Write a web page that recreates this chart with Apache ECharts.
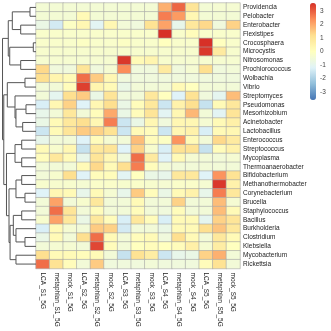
<!DOCTYPE html>
<html><head><meta charset="utf-8">
<script src="https://cdn.jsdelivr.net/npm/echarts@6/dist/echarts.min.js"></script>
<style>html,body{margin:0;padding:0;background:#fff}#c{width:331px;height:331px}</style>
</head><body><div id="c"></div>
<script>
const samples = ['LCA_S1_5G','metaphlan_S1_5G','mock_S1_5G','LCA_S2_5G','metaphlan_S2_5G','mock_S2_5G','LCA_S3_5G','metaphlan_S3_5G','mock_S3_5G','LCA_S4_5G','metaphlan_S4_5G','mock_S4_5G','LCA_S5_5G','metaphlan_S5_5G','mock_S5_5G'];
const taxa = ['Providencia','Pelobacter','Enterobacter','Flexistipes','Crocosphaera','Microcystis','Nitrosomonas','Prochlorococcus','Wolbachia','Vibrio','Streptomyces','Pseudomonas','Mesorhizobium','Acinetobacter','Lactobacillus','Enterococcus','Streptococcus','Mycoplasma','Thermoanaerobacter','Bifidobacterium','Methanothermobacter','Corynebacterium','Brucella','Staphylococcus','Bacillus','Burkholderia','Clostridium','Klebsiella','Mycobacterium','Rickettsia'];
const zscores = [
 [-0.45,-0.45,-0.45,-0.45,-0.45,-0.45,-0.45,-0.45,-0.45,1.9,2.9,1.0,-0.45,-0.4,-0.4],
 [-0.45,-0.45,-0.45,0.2,-0.45,-0.45,-0.45,-0.45,-0.45,2.6,2.2,0.3,-0.45,-0.45,-0.45],
 [-0.8,-1.4,-0.1,0.3,-1.1,0.3,-0.5,-0.6,1.1,2.1,-0.9,0.9,1.3,-0.6,1.4],
 [-0.25,-0.25,-0.25,-0.25,-0.25,-0.25,-0.25,-0.25,-0.25,3.6,-0.25,0.1,-0.25,-0.25,-0.25],
 [-0.25,-0.25,-0.25,-0.1,-0.25,-0.25,-0.1,-0.25,-0.25,0.0,-0.25,-0.25,3.6,0.0,-0.25],
 [-0.3,-0.3,-0.3,-0.3,-0.3,-0.3,-0.3,-0.3,-0.3,-0.3,-0.3,-0.3,3.5,0.8,-0.3],
 [-0.35,-0.35,-0.35,-0.35,-0.35,-0.35,3.5,0.2,0.4,-0.3,-0.35,-0.35,-0.35,-0.35,-0.35],
 [1.3,-0.6,-0.6,1.0,-0.6,-0.4,2.4,-0.6,-0.6,0.8,-0.6,-0.4,1.2,-0.6,-0.5],
 [1.2,0.4,0.2,2.8,1.5,0.3,-0.6,-0.6,-0.6,-0.6,-0.6,-0.6,-0.6,-0.6,-0.6],
 [-0.5,-0.5,0.1,3.4,0.4,0.2,-0.8,-0.5,-0.5,-0.5,0.2,0.0,-0.5,-0.5,-0.5],
 [-0.5,-1.0,1.2,1.5,-0.8,1.0,-0.6,-0.5,0.9,0.0,-1.2,1.1,-0.6,-1.0,1.7],
 [-1.3,0.3,1.4,-1.2,0.3,1.2,-0.8,0.1,0.9,-1.5,0.5,1.2,-1.6,0.2,0.9],
 [-0.9,-0.5,0.9,-0.5,0.1,2.0,-0.8,0.1,1.0,-1.1,0.3,1.8,-0.5,-1.1,1.0],
 [-0.8,0.2,0.9,1.2,0.3,2.6,-1.5,-0.8,0.3,-0.6,0.3,0.3,-0.4,0.2,0.6],
 [-1.5,0.2,1.0,1.5,1.4,1.1,-1.5,0.2,0.1,-1.5,0.3,0.5,-1.3,0.2,0.3],
 [-0.9,-0.5,-0.5,-1.2,0.1,-0.4,-0.5,1.7,0.1,-0.1,2.3,0.2,-0.5,1.3,0.8],
 [0.2,-0.3,0.3,-1.6,0.9,1.0,-1.2,1.4,-0.3,-1.3,1.1,1.1,-1.6,0.1,0.5],
 [0.1,0.9,0.2,-0.9,1.0,0.3,-0.6,2.8,0.8,-1.2,0.2,-0.4,-0.5,-0.5,-0.4],
 [-0.5,-0.5,-0.5,0.2,1.3,0.2,1.2,2.6,0.1,-0.5,-0.5,-0.5,-0.5,-0.5,-0.5],
 [-0.5,-0.3,1.2,-1.2,0.1,0.1,-1.1,0.0,-0.8,-0.9,0.9,0.9,-1.2,2.3,1.1],
 [-0.3,-0.3,-0.3,-0.4,-0.2,-0.2,-0.3,-0.2,-0.3,-0.4,-0.2,-0.2,-0.4,3.5,0.5],
 [-1.2,0.3,0.2,-0.9,0.2,-0.4,-0.9,1.5,0.1,-0.8,0.2,0.5,-0.9,2.6,0.9],
 [-0.5,2.1,-0.5,-0.3,0.9,-0.5,-0.5,0.2,-0.5,-0.5,1.4,-0.5,-0.5,1.7,-0.4],
 [-0.5,2.8,1.0,-0.5,0.1,-0.5,-0.5,0.1,-0.5,-0.6,0.1,-0.5,-0.5,1.7,0.2],
 [-0.3,2.1,0.9,-0.8,0.9,0.1,-1.3,0.9,0.1,-1.3,0.2,0.2,-1.0,1.4,1.0],
 [-1.3,0.2,-0.4,-0.5,1.5,1.4,-1.4,-0.5,-0.5,-0.8,0.2,0.2,1.2,1.6,0.9],
 [-0.8,0.2,-0.5,1.2,2.8,0.2,-0.5,0.1,0.2,-0.6,1.2,0.2,-0.5,0.9,0.2],
 [-0.5,-0.4,-0.4,-0.5,3.3,0.1,-0.5,0.0,0.1,0.0,0.1,0.6,-0.4,0.7,0.0],
 [1.2,0.2,0.2,0.1,0.2,-0.5,-1.6,1.1,0.7,-1.5,-0.9,-0.8,1.4,1.9,-0.5],
 [2.8,1.1,0.1,-0.5,1.5,-0.6,-0.6,-0.6,-0.5,-0.6,-0.6,-0.6,0.1,1.1,-0.5]
];
const legendTicks = [-3,-2,-1,0,1,2,3];
const colorLimit = 3.6;
const palette = ['#4575B4','#91BFDB','#E0F3F8','#FFFFBF','#FEE090','#FC8D59','#D73027'];
// hclust-style merges: negative = leaf row (-(i+1)), positive = earlier merge (1-based); third = height
const rowMerges = [
 [-1,-2,1.67],[-3,-4,4.25],[1,2,6.58],[-5,-6,0.75],[-7,-8,4.25],[4,5,7.3],[3,6,7.7],
 [-9,-10,3.06],[-12,-13,2.78],[-14,-15,3.7],[9,10,5.56],[-11,11,5.83],[8,12,7.97],
 [-16,-17,3.97],[-18,-19,3.97],[14,15,5.83],
 [-20,-21,3.97],[-22,-23,3.06],[17,18,5.56],
 [-24,-25,3.97],[-27,-28,3.06],[-26,21,5.56],[20,22,6.3],[-29,-30,5.56],[23,24,7.2],
 [19,25,7.5],[16,26,8.2],[13,27,8.95],[7,28,9.3]
];

const nodeH = [], nodeY = [];
function ref(r){ return r < 0 ? {h:0, y:-r-1+0.5} : {h:nodeH[r-1], y:nodeY[r-1]}; }
const treeSegs = rowMerges.map(([a,b,h],k)=>{
  const A = ref(a), B = ref(b);
  nodeH[k] = h; nodeY[k] = (A.y + B.y)/2;
  return {coords:[[A.h,A.y],[h,A.y],[h,B.y],[B.h,B.y]]};
});

const cells = [];
zscores.forEach((row,r)=>row.forEach((v,c)=>cells.push([c,r,v])));

const FONT = 'Liberation Sans';
const chart = echarts.init(document.getElementById('c'), null, {renderer:'canvas'});
chart.setOption({
  animation:false,
  backgroundColor:'#fff',
  textStyle:{fontFamily:FONT},
  grid:[
    {left:36, top:3, width:204, height:265.5},
    {left:0, top:3, width:36, height:265.5},
    {left:310, top:3, width:6, height:97}
  ],
  xAxis:[
    {type:'category', gridIndex:0, data:samples, position:'bottom',
     axisLine:{show:false}, axisTick:{show:false}, splitLine:{show:false},
     axisLabel:{rotate:-90, fontSize:6.5, color:'#222', margin:4, fontFamily:FONT, interval:0}},
    {type:'value', gridIndex:1, min:0, max:10, inverse:true, show:false},
    {type:'value', gridIndex:2, show:false}
  ],
  yAxis:[
    {type:'category', gridIndex:0, data:taxa, inverse:true, position:'right',
     axisLine:{show:false}, axisTick:{show:false}, splitLine:{show:false},
     axisLabel:{fontSize:6.5, color:'#222', margin:3, fontFamily:FONT, interval:0}},
    {type:'value', gridIndex:1, min:0, max:taxa.length, inverse:true, show:false},
    {type:'value', gridIndex:2, min:-colorLimit, max:colorLimit, position:'right',
     axisLine:{show:false}, axisTick:{show:false}, splitLine:{show:false},
     axisLabel:{customValues:legendTicks, fontSize:6.5, color:'#444', margin:4, fontFamily:FONT,
       formatter:v=>String(v)}}
  ],
  visualMap:{
    type:'continuous', min:-colorLimit, max:colorLimit, seriesIndex:0,
    calculable:false, left:310, top:3, itemWidth:6, itemHeight:97, padding:0,
    inRange:{color:palette}, text:null, showLabel:false, hoverLink:false
  },
  series:[
    {type:'heatmap', xAxisIndex:0, yAxisIndex:0, data:cells, silent:true,
     itemStyle:{borderColor:'#A6A6A6', borderWidth:0.6}},
    {type:'lines', coordinateSystem:'cartesian2d', xAxisIndex:1, yAxisIndex:1, polyline:true,
     silent:true, data:treeSegs, lineStyle:{color:'#555', width:1, opacity:1}}
  ]
});
</script></body></html>
